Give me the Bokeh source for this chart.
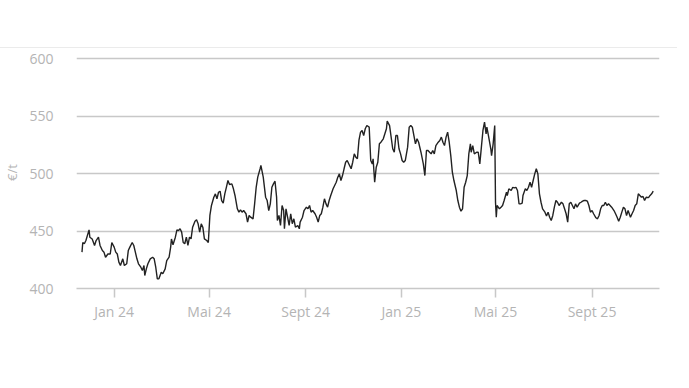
import pandas as pd
from bokeh.plotting import figure
from bokeh.layouts import column
from bokeh.models import Range1d, FixedTicker, ColumnDataSource, Div
from bokeh.embed import file_html
from bokeh.resources import INLINE

# ---- data ----
start_date = "2024-01-01"
day_offsets = [
    -41, -40, -38, -36, -32, -31, -28, -25, -23, -20,
    -18, -15, -13, -11, -8, -5, -3, 0, 2, 4,
    6, 8, 11, 13, 16, 18, 20, 23, 25, 27,
    29, 31, 34, 36, 38, 39, 41, 43, 46, 49,
    51, 53, 55, 57, 60, 62, 65, 67, 70, 72,
    73, 75, 78, 80, 82, 84, 86, 88, 90, 92,
    94, 96, 98, 100, 103, 105, 107, 109, 111, 113,
    115, 118, 120, 122, 124, 127, 129, 131, 133, 135,
    137, 139, 141, 143, 145, 147, 150, 152, 154, 157,
    159, 161, 163, 165, 168, 170, 172, 174, 177, 179,
    181, 183, 186, 187, 190, 193, 195, 197, 199, 201,
    203, 205, 207, 208, 210, 212, 214, 216, 217, 219,
    221, 223, 225, 227, 229, 231, 234, 236, 237, 240,
    242, 245, 247, 249, 251, 253, 256, 258, 260, 262,
    264, 266, 268, 270, 272, 274, 276, 279, 281, 283,
    285, 287, 289, 291, 293, 295, 297, 300, 302, 304,
    306, 308, 310, 312, 314, 316, 318, 320, 322, 325,
    327, 329, 330, 332, 334, 336, 338, 340, 343, 345,
    347, 348, 351, 353, 355, 357, 359, 361, 363, 365,
    367, 369, 371, 374, 376, 378, 380, 382, 384, 386,
    388, 391, 394, 396, 398, 400, 402, 404, 406, 408,
    410, 413, 415, 417, 419, 421, 423, 425, 427, 429,
    431, 433, 436, 438, 440, 442, 444, 446, 448, 450,
    452, 454, 455, 457, 459, 462, 464, 466, 468, 470,
    472, 474, 475, 477, 480, 481, 483, 485, 486, 487,
    488, 491, 493, 495, 497, 500, 501, 503, 506, 508,
    510, 512, 514, 516, 518, 520, 521, 524, 526, 528,
    530, 532, 534, 536, 538, 540, 542, 544, 546, 549,
    551, 553, 555, 557, 559, 561, 563, 565, 567, 570,
    572, 574, 576, 578, 580, 582, 584, 586, 588, 590,
    593, 595, 597, 599, 601, 603, 605, 607, 609, 611,
    614, 616, 618, 620, 622, 624, 626, 628, 630, 632,
    634, 637, 639, 641, 643, 645, 647, 649, 651, 653,
    655, 658, 660, 662, 664, 666, 668, 670, 672, 674,
    676, 678, 681, 683, 685, 687,
]
prices = [
    431.6, 440, 438.9, 441.7, 451, 444.6, 443, 437.4, 441.7, 444.6,
    437.4, 433, 431.6, 427.2, 430, 430, 440, 436, 431.6, 430,
    422.9, 420, 425.8, 420, 421.5, 433, 436, 440, 437.4, 431.6,
    425.8, 421.5, 418.5, 415.7, 420, 411.3, 417.1, 421.5, 425.8, 427.2,
    425.8, 418.5, 408.4, 408.4, 414.2, 412.8, 417.1, 424.3, 427.2, 436,
    443, 438, 444.6, 451, 450.4, 451.9, 449, 440, 438.9, 444.6,
    437.4, 444.6, 443.2, 453.3, 458.5, 459.7, 456.2, 449, 456.2, 453.3,
    443.2, 441.7, 440, 463.5, 472.2, 479.4, 482.3, 478, 483.7, 484.6,
    476.5, 474.2, 482.3, 488, 493.9, 490.4, 491, 486.7, 480.9, 469.3,
    466.4, 468.4, 466.4, 467.8, 465, 457.7, 463.5, 462, 460.6, 473.6,
    488, 496.8, 504.1, 507, 496.8, 479.4, 476.5, 467.8, 473.6, 488,
    491, 493.3, 479.4, 459.1, 463.5, 454.8, 472.2, 467.8, 451.9, 469.3,
    462, 454.8, 465, 456.3, 460.6, 453.3, 454.8, 451.9, 457.7, 462,
    467.8, 470.7, 469.3, 472.2, 466.4, 467.8, 465, 462, 457.7, 463.5,
    465, 470.7, 478, 473.6, 470.7, 476.5, 480.9, 486.7, 489.6, 492.4,
    496.8, 499.7, 493.9, 498.2, 504.1, 509.8, 511.3, 507, 504.1, 509.8,
    517.1, 514.2, 512.8, 529, 535.9, 537.4, 533, 538.9, 541.7, 540.3,
    511.3, 508.4, 512.8, 492.4, 505.5, 509.8, 525.8, 527.2, 530.2, 534.5,
    538.9, 545.5, 541.7, 531.6, 521.5, 518.5, 533, 533, 521.5, 517.1,
    511.3, 509.8, 511.3, 522.9, 540.3, 541.7, 540.3, 533, 525.8, 530.2,
    527.2, 518.5, 508.4, 498.2, 520, 520, 518.5, 517.1, 520, 517.1,
    524.3, 527.2, 528.7, 531.6, 527.2, 524.3, 531.6, 535.9, 527.2, 515.6,
    501.1, 493.9, 485.2, 476.5, 470.7, 467.2, 469.3, 488, 492.4, 498.2,
    517.1, 525.8, 518.5, 524.3, 517.1, 518.5, 518.5, 508.4, 522.9, 537.4,
    544.6, 534.5, 540.3, 533, 521.5, 515.6, 525.8, 541.7, 475, 462,
    472.2, 469.3, 470.7, 472.2, 476.5, 483.7, 480.9, 486.7, 485.2, 488,
    487.5, 488, 485.2, 473.6, 473.6, 474.2, 480.9, 486.7, 485.2, 488,
    492.4, 488, 493.9, 499.7, 504.1, 499.7, 482.3, 475, 469.3, 466.4,
    463, 466.4, 462, 459.1, 463.5, 470.7, 476.5, 475, 472.2, 475,
    473.6, 469.3, 465, 457.7, 473.6, 475, 472.2, 469.3, 473.6, 470.7,
    474.2, 475, 476, 476.5, 476.5, 476, 472.2, 466.4, 467.8, 465,
    461.5, 460.6, 463.5, 469.3, 472.2, 472.2, 475, 472.2, 473.6, 472.2,
    470.7, 467.8, 465, 462, 458.5, 462, 466.4, 470.7, 469.3, 463.5,
    467.8, 462, 465, 467.8, 472.2, 473.6, 482.3, 480.9, 479.4, 480,
    476.5, 479.4, 479, 480.9, 482.3, 484.6,
]
assert len(day_offsets) == len(prices)

y_ticks = [400, 450, 500, 550, 600]
x_tick_dates = ["2024-01-01", "2024-05-01", "2024-09-01",
                "2025-01-01", "2025-05-01", "2025-09-01"]
x_tick_labels = ["Jan 24", "Mai 24", "Sept 24", "Jan 25", "Mai 25", "Sept 25"]
x_start, x_end = "2023-11-14", "2025-11-26"
unit_label = "€/t"

# ---- build ----
def ms(d):
    return float(pd.Timestamp(d).value // 10**6)

dates = pd.Timestamp(start_date) + pd.to_timedelta(day_offsets, unit="D")
src = ColumnDataSource(dict(date=dates, price=prices))

FONT = "Open Sans"
LABEL_COLOR = "#b4b4b4"
GRID_COLOR = "#c8c8c8"

Y_PAD = 2 * (y_ticks[-1] - y_ticks[0]) / 230.0   # keep the top gridline inside the frame

p = figure(width=673, height=373, x_axis_type="datetime",
           output_backend="svg", toolbar_location=None,
           x_range=Range1d(ms(x_start), ms(x_end)),
           y_range=Range1d(y_ticks[0], y_ticks[-1] + Y_PAD),
           min_border_left=67, min_border_right=14,
           min_border_top=56, min_border_bottom=85)
p.outline_line_color = None
p.background_fill_color = "white"
p.border_fill_color = None

p.line("date", "price", source=src, line_color="#222222", line_width=1.4)

# grid
p.xgrid.visible = False
p.yaxis.ticker = FixedTicker(ticks=y_ticks, minor_ticks=[])
p.ygrid.grid_line_color = GRID_COLOR
p.ygrid.grid_line_width = 1.5

# y axis
yax = p.yaxis[0]
yax.axis_line_color = None
yax.major_tick_line_color = None
yax.minor_tick_line_color = None
yax.major_label_standoff = 17
yax.major_label_text_font = FONT
yax.major_label_text_font_size = "14px"
yax.major_label_text_color = LABEL_COLOR
yax.axis_label = unit_label
yax.axis_label_text_font = FONT
yax.axis_label_text_font_size = "13px"
yax.axis_label_text_font_style = "normal"
yax.axis_label_text_color = LABEL_COLOR
yax.axis_label_standoff = 5

# x axis
tick_ms = [ms(d) for d in x_tick_dates]
xax = p.xaxis[0]
xax.ticker = FixedTicker(ticks=tick_ms, minor_ticks=[])
xax.major_label_overrides = {t: lab for t, lab in zip(tick_ms, x_tick_labels)}
xax.axis_line_color = GRID_COLOR
xax.axis_line_width = 1.5
xax.major_tick_line_color = GRID_COLOR
xax.major_tick_line_width = 1.5
xax.major_tick_out = 9
xax.major_tick_in = 0
xax.minor_tick_line_color = None
xax.major_label_standoff = 4
xax.major_label_text_font = FONT
xax.major_label_text_font_size = "14px"
xax.major_label_text_color = LABEL_COLOR

# faint separator rule across the top of the page (fixed to the viewport)
rule = Div(width=1, height=1,
           text='<div style="position:fixed;left:0;top:47px;width:677px;'
                'height:1px;background:#ebebeb;z-index:10;"></div>')
layout = column(p, rule, spacing=0)

open("out.html", "w").write(file_html(layout, INLINE))
